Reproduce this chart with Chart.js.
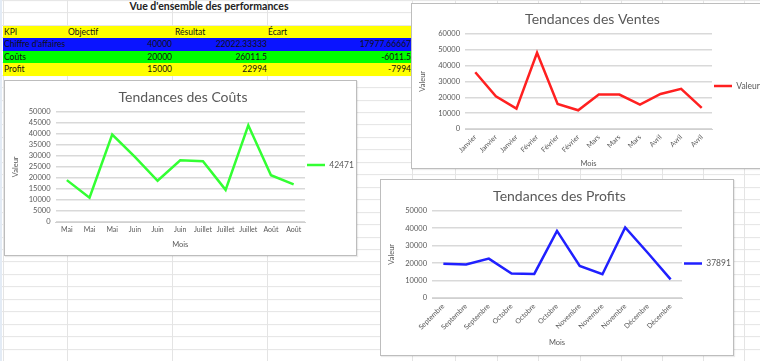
<!DOCTYPE html>
<html>
<head>
<meta charset="utf-8">
<script src="https://cdn.jsdelivr.net/npm/chart.js@4.4.1/dist/chart.umd.min.js"></script>
<style>
  body { margin: 0; width: 760px; height: 361px; overflow: hidden; background: #fff; position: relative; font-family: Lato, "Open Sans", sans-serif; }
  .rows { position: absolute; left: 0; top: 0; width: 760px; height: 361px;
    background-image: repeating-linear-gradient(to bottom, transparent 0, transparent 11.45px, #e4e4e4 11.45px, #e4e4e4 12.45px);
    background-position: 0 1.1px; }
  .col { position: absolute; top: 0; width: 1px; height: 361px; background: #e4e4e4; }
  .strip { position: absolute; left: 0; top: 0; width: 2px; height: 361px; background: #e3ebf5; }
  .title { position: absolute; left: 67px; width: 284px; top: 0; height: 13px; line-height: 13px; text-align: center; font-weight: bold; font-size: 10.5px; color: #222; }
  .trow { position: absolute; left: 3px; width: 410px; height: 12.45px; font-size: 8.5px; line-height: 12.45px; color: #111; }
  .trow span { position: absolute; top: 0; white-space: nowrap; }
  .box { position: absolute; background: #fff; border: 1px solid #bdbdbd; box-shadow: 1px 1px 1px rgba(0,0,0,0.08); }
  canvas { display: block; }
</style>
</head>
<body>
<div class="rows"></div>
<div class="strip"></div>
<div id="cols"></div>
<div class="title">Vue d'ensemble des performances</div>
<div id="table"></div>

<div class="box" style="left:4px;top:80px;"><canvas id="couts" width="351" height="174"></canvas></div>
<div class="box" style="left:411px;top:3px;"><canvas id="ventes" width="360" height="164"></canvas></div>
<div class="box" style="left:380px;top:179px;"><canvas id="profits" width="352" height="175"></canvas></div>

<script>
// ====== DATA ======
const tableHeader = ["KPI", "Objectif", "Résultat", "Écart"];
const kpiNames = ["Chiffre d'affaires", "Coûts", "Profit"];
const kpiObjectif = ["40000", "20000", "15000"];
const kpiResultat = ["22022.33333", "26011.5", "22994"];
const kpiEcart = ["17977.66667", "-6011.5", "-7994"];

const ventesLabels = ["Janvier", "Janvier", "Janvier", "Février", "Février", "Février", "Mars", "Mars", "Mars", "Avril", "Avril", "Avril"];
const ventesValues = [35800, 20600, 12800, 48000, 15800, 11800, 21700, 21700, 15400, 22100, 25300, 13300];

const coutsLabels = ["Mai", "Mai", "Mai", "Juin", "Juin", "Juin", "Juillet", "Juillet", "Juillet", "Août", "Août"];
const coutsValues = [19000, 11000, 39700, 29500, 18700, 28000, 27600, 14600, 43900, 21200, 17100];

const profitsLabels = ["Septembre", "Septembre", "Septembre", "Octobre", "Octobre", "Octobre", "Novembre", "Novembre", "Novembre", "Décembre", "Décembre"];
const profitsValues = [19700, 19200, 22600, 14000, 13800, 38500, 18400, 13600, 40400, 25800, 10700];
// ==================

// spreadsheet column lines
const colX = [3, 67, 172, 267, 412, 455, 497, 538, 580, 621, 662, 703, 744];
document.getElementById("cols").innerHTML = colX.map(x => `<div class="col" style="left:${x}px"></div>`).join("");

// KPI table
const rowColors = ["#ffff00", "#0a14ff", "#00ff00", "#ffff00"];
const rows = [tableHeader].concat(kpiNames.map((n, i) => [n, kpiObjectif[i], kpiResultat[i], kpiEcart[i]]));
let html = "";
rows.forEach((r, i) => {
  const top = 26 + i * 12.45;
  html += `<div class="trow" style="top:${top}px;background:${rowColors[i]}">`;
  if (i === 0) {
    html += `<span style="left:1px">${r[0]}</span><span style="left:65px">${r[1]}</span>` +
            `<span style="left:172px">${r[2]}</span><span style="left:265px">${r[3]}</span>`;
  } else {
    html += `<span style="left:1px">${r[0]}</span><span style="right:241px">${r[1]}</span>` +
            `<span style="right:146px">${r[2]}</span><span style="right:2px">${r[3]}</span>`;
  }
  html += "</div>";
});
document.getElementById("table").innerHTML = html;

const FONT = "Lato, 'Open Sans', sans-serif";
const GREY = "#595959";

// o: layout tweaks per chart (axis sizes, paddings, legend width)
function makeChart(id, title, labels, values, color, legendLabel, yMax, yStep, rotate, o) {
  new Chart(document.getElementById(id), {
    type: "line",
    data: {
      labels: labels,
      datasets: [{
        label: legendLabel,
        data: values,
        borderColor: color,
        backgroundColor: color,
        borderWidth: 2.5,
        pointRadius: 0,
        tension: 0,
      }],
    },
    options: {
      responsive: false,
      animation: false,
      devicePixelRatio: 1,
      layout: { padding: { left: 6, right: o.padRight, top: 0, bottom: o.padBottom } },
      plugins: {
        title: {
          display: true,
          text: title,
          color: GREY,
          font: { family: FONT, size: 14, weight: "normal" },
          padding: { top: o.titleTop, bottom: 6 },
        },
        legend: {
          position: "right",
          maxWidth: o.legendWidth,
          labels: {
            usePointStyle: true,
            pointStyle: "line",
            pointStyleWidth: 18,
            color: GREY,
            font: { family: FONT, size: 8.5 },
            padding: 2,
          },
        },
        tooltip: { enabled: false },
      },
      scales: {
        x: {
          offset: true,
          afterFit: s => { s.height = o.xHeight; },
          grid: { display: false, drawTicks: false },
          border: { color: "#d0d0d0", width: 1 },
          ticks: {
            color: GREY,
            font: { family: FONT, size: 7 },
            padding: 4,
            autoSkip: false,
            minRotation: rotate,
            maxRotation: rotate,
          },
          title: { display: true, text: "Mois", color: GREY, font: { family: FONT, size: 7.5 }, padding: { top: 2, bottom: 0 } },
        },
        y: {
          min: 0,
          max: yMax,
          afterFit: s => { s.width = o.yWidth; },
          grid: { color: "#d9d9d9", lineWidth: 1.5, drawTicks: false },
          border: { display: false },
          ticks: { stepSize: yStep, autoSkip: false, color: GREY, font: { family: FONT, size: 7.5 }, padding: 5, callback: v => String(v) },
          title: { display: true, text: "Valeur", color: GREY, font: { family: FONT, size: 7.5 }, padding: { top: 0, bottom: 4 } },
        },
      },
    },
  });
}

makeChart("couts", "Tendances des Coûts", coutsLabels, coutsValues, "#33ff33", "42471", 50000, 5000, 0,
  { yWidth: 44.5, xHeight: 27, padRight: 1, padBottom: 6, titleTop: 8, legendWidth: 50 });
makeChart("ventes", "Tendances des Ventes", ventesLabels, ventesValues, "#ff2020", "Valeur", 60000, 10000, 45,
  { yWidth: 47, xHeight: 39, padRight: 5, padBottom: 0, titleTop: 7, legendWidth: 55 });
makeChart("profits", "Tendances des Profits", profitsLabels, profitsValues, "#2020ff", "37891", 50000, 10000, 45,
  { yWidth: 45, xHeight: 49, padRight: 1, padBottom: 8, titleTop: 8, legendWidth: 50 });
</script>
</body>
</html>
